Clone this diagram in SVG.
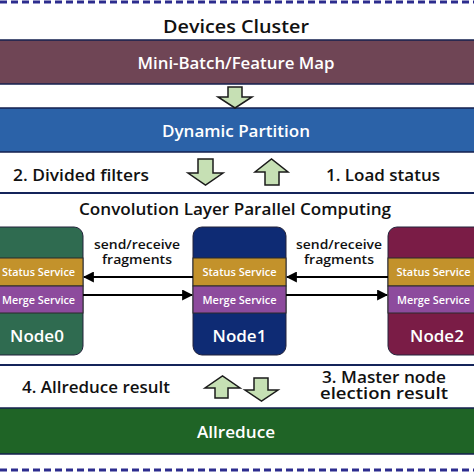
<svg xmlns="http://www.w3.org/2000/svg" width="474" height="474" viewBox="0 0 474 474">
<defs>
<style>
text{font-family:"Open Sans","Noto Sans","DejaVu Sans",sans-serif;font-weight:600;}
.dash{stroke:#2c2c8e;stroke-width:3;stroke-dasharray:7 4;fill:none}
.sep{stroke:#14245a;stroke-width:2;fill:none}
.bar{stroke:#15204f;stroke-width:1.5}
.w{fill:#ffffff;text-anchor:middle}
.k{fill:#111111}
.blk{fill:#c6e0b4;stroke:#1b1b1b;stroke-width:1.5;stroke-linejoin:miter}
.node{stroke:#22223a;stroke-width:1}
.st{fill:#c3922b;stroke:#2a2a2a;stroke-width:1}
.mg{fill:#8d4b9d;stroke:#2a2a2a;stroke-width:1}
.svc{fill:#ffffff;font-size:11.5px;text-anchor:middle}
.nl{fill:#ffffff;font-size:17px;text-anchor:middle}
.conn{stroke:#000;stroke-width:2.2;fill:none}
.lbl{fill:#111111;font-size:12px;text-anchor:middle}
</style>
<marker id="ah" viewBox="0 0 10 10" refX="9" refY="5" markerWidth="5" markerHeight="5" orient="auto" markerUnits="strokeWidth">
<path d="M0,0 L10,5 L0,10 z" fill="#000"/>
</marker>
</defs>
<rect width="474" height="474" fill="#ffffff"/>
<line class="dash" x1="0" y1="2" x2="474" y2="2"/>
<line class="dash" x1="0" y1="470" x2="474" y2="470"/>
<text class="k" x="236" y="33" font-size="18" text-anchor="middle" textLength="146" lengthAdjust="spacingAndGlyphs">Devices Cluster</text>
<g id="minibatch">
<rect class="bar" x="-2" y="40" width="478" height="44" fill="#6f4555"/>
<text class="w" x="236" y="69" font-size="16" textLength="197" lengthAdjust="spacingAndGlyphs">Mini-Batch/Feature Map</text>
</g>
<g id="partition">
<rect class="bar" x="-2" y="108" width="478" height="44" fill="#2b62a8"/>
<text class="w" x="236" y="137" font-size="16" textLength="148" lengthAdjust="spacingAndGlyphs">Dynamic Partition</text>
</g>
<line class="sep" x1="0" y1="193" x2="474" y2="193"/>
<line class="sep" x1="0" y1="365" x2="474" y2="365"/>
<text class="k" x="13" y="181" font-size="17" textLength="136" lengthAdjust="spacingAndGlyphs">2. Divided filters</text>
<text class="k" x="326" y="181" font-size="17" textLength="114" lengthAdjust="spacingAndGlyphs">1. Load status</text>
<text class="k" x="235" y="215" font-size="16" text-anchor="middle" textLength="312" lengthAdjust="spacingAndGlyphs">Convolution Layer Parallel Computing</text>
<g id="arrows-block">
<path class="blk" d="M228,87 H242 V97 H252 L235,108 L218,97 H228 Z"/>
<path class="blk" d="M198,159 H213 V173 H223 L205.5,185 L188,173 H198 Z"/>
<path class="blk" d="M265,185 H279 V172 H288 L271.5,159 L255,172 H265 Z"/>
<path class="blk" d="M215,398 H228 V388 H240 L222.5,376 L205,388 H215 Z"/>
<path class="blk" d="M254,378 H268 V390 H278 L261.5,401 L245,390 H254 Z"/>
</g>
<g id="node0">
<rect class="node" x="-12" y="227" width="95" height="128" rx="9" fill="#2f6b50"/>
<rect class="st" x="-12" y="258" width="95" height="28"/>
<rect class="mg" x="-12" y="286" width="95" height="27"/>
<text class="svc" x="38.5" y="276" textLength="73" lengthAdjust="spacingAndGlyphs">Status Service</text>
<text class="svc" x="38.5" y="304" textLength="73" lengthAdjust="spacingAndGlyphs">Merge Service</text>
<text class="nl" x="37" y="342">Node0</text>
</g>
<g id="node1">
<rect class="node" x="193" y="227" width="93" height="128" rx="9" fill="#0e2b74"/>
<rect class="st" x="193" y="258" width="93" height="28"/>
<rect class="mg" x="193" y="286" width="93" height="27"/>
<text class="svc" x="239.5" y="276" textLength="74" lengthAdjust="spacingAndGlyphs">Status Service</text>
<text class="svc" x="239.5" y="304" textLength="74" lengthAdjust="spacingAndGlyphs">Merge Service</text>
<text class="nl" x="239.5" y="342">Node1</text>
</g>
<g id="node2">
<rect class="node" x="388" y="227" width="98" height="128" rx="9" fill="#7a1c46"/>
<rect class="st" x="388" y="258" width="98" height="28"/>
<rect class="mg" x="388" y="286" width="98" height="27"/>
<text class="svc" x="433.5" y="276" textLength="74" lengthAdjust="spacingAndGlyphs">Status Service</text>
<text class="svc" x="433.5" y="304" textLength="73" lengthAdjust="spacingAndGlyphs">Merge Service</text>
<text class="nl" x="437" y="342">Node2</text>
</g>
<g id="connectors">
<line class="conn" x1="193" y1="277" x2="84" y2="277" marker-end="url(#ah)"/>
<line class="conn" x1="83" y1="295" x2="192" y2="295" marker-end="url(#ah)"/>
<line class="conn" x1="388" y1="277" x2="287" y2="277" marker-end="url(#ah)"/>
<line class="conn" x1="286" y1="295" x2="387" y2="295" marker-end="url(#ah)"/>
<text class="lbl"><tspan x="137" y="248.5" textLength="86" lengthAdjust="spacingAndGlyphs">send/receive</tspan><tspan x="137" y="263.5" textLength="70" lengthAdjust="spacingAndGlyphs">fragments</tspan></text>
<text class="lbl"><tspan x="339" y="248.5" textLength="86" lengthAdjust="spacingAndGlyphs">send/receive</tspan><tspan x="339" y="263.5" textLength="70" lengthAdjust="spacingAndGlyphs">fragments</tspan></text>
</g>
<text class="k" x="22" y="393" font-size="17" textLength="148" lengthAdjust="spacingAndGlyphs">4. Allreduce result</text>
<text class="k" font-size="15.5" text-anchor="middle"><tspan x="384" y="382.5" textLength="124" lengthAdjust="spacingAndGlyphs">3. Master node</tspan><tspan x="384" y="399" textLength="128" lengthAdjust="spacingAndGlyphs">election result</tspan></text>
<g id="allreduce">
<rect class="bar" x="-2" y="408" width="478" height="46" fill="#1f6426"/>
<text class="w" x="236" y="438" font-size="16" textLength="78" lengthAdjust="spacingAndGlyphs">Allreduce</text>
</g>
</svg>
